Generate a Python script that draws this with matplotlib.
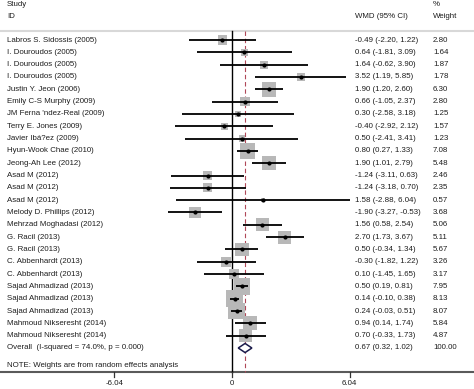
import numpy as np
import matplotlib
matplotlib.use("Agg")
import matplotlib.pyplot as plt
from matplotlib.patches import Polygon

plt.rcParams['font.family'] = ['Liberation Sans', 'DejaVu Sans']

studies = [
    "Labros S. Sidossis (2005)", "I. Douroudos (2005)", "I. Douroudos (2005)",
    "I. Douroudos (2005)", "Justin Y. Jeon (2006)", "Emily C-S Murphy (2009)",
    "JM Ferna 'ndez-Real (2009)", "Terry E. Jones (2009)", "Javier Ibá?ez (2009)",
    "Hyun-Wook Chae (2010)", "Jeong-Ah Lee (2012)", "Asad M (2012)",
    "Asad M (2012)", "Asad M (2012)", "Melody D. Phillips (2012)",
    "Mehrzad Moghadasi (2012)", "G. Racil (2013)", "G. Racil (2013)",
    "C. Abbenhardt (2013)", "C. Abbenhardt (2013)", "Sajad Ahmadizad (2013)",
    "Sajad Ahmadizad (2013)", "Sajad Ahmadizad (2013)", "Mahmoud Nikseresht (2014)",
    "Mahmoud Nikseresht (2014)",
]
wmd = [-0.49, 0.64, 1.64, 3.52, 1.90, 0.66, 0.30, -0.40, 0.50, 0.80, 1.90,
       -1.24, -1.24, 1.58, -1.90, 1.56, 2.70, 0.50, -0.30, 0.10, 0.50, 0.14,
       0.24, 0.94, 0.70]
lower = [-2.20, -1.81, -0.62, 1.19, 1.20, -1.05, -2.58, -2.92, -2.41, 0.27, 1.01,
         -3.11, -3.18, -2.88, -3.27, 0.58, 1.73, -0.34, -1.82, -1.45, 0.19, -0.10,
         -0.03, 0.14, -0.33]
upper = [1.22, 3.09, 3.90, 5.85, 2.60, 2.37, 3.18, 2.12, 3.41, 1.33, 2.79,
         0.63, 0.70, 6.04, -0.53, 2.54, 3.67, 1.34, 1.22, 1.65, 0.81, 0.38,
         0.51, 1.74, 1.73]
weight = [2.80, 1.64, 1.87, 1.78, 6.30, 2.80, 1.25, 1.57, 1.23, 7.08, 5.48,
          2.46, 2.35, 0.57, 3.68, 5.06, 5.11, 5.67, 3.26, 3.17, 7.95, 8.13,
          8.07, 5.84, 4.87]

overall_wmd, overall_lo, overall_hi = 0.67, 0.32, 1.02
overall_label = "Overall  (I-squared = 74.0%, p = 0.000)"
xticks = [-6.04, 0, 6.04]
xticklabels = ["-6.04", "0", "6.04"]

W, H = 474, 389
fig = plt.figure(figsize=(W / 100, H / 100), dpi=100)
ax = fig.add_axes([0, 0, 1, 1])
ax.axis('off')

px_per_unit = 19.5
zero_px = 232
row_h = 12.32
top_px = 40
ax.set_xlim(-zero_px / px_per_unit, (W - zero_px) / px_per_unit)
ax.set_ylim((H - top_px) / row_h, -top_px / row_h)


def rowpos(px):
    return (px - top_px) / row_h


n = len(studies)
rows = np.arange(n)
fs = 5.7
tc = '#1e1e1e'
tr = ax.get_yaxis_transform()  # x in axes fraction, y in data
x_study, x_wmd, x_wt = 7 / W, 355 / W, 433 / W

# header
ax.text(x_study, rowpos(5), "Study", transform=tr, fontsize=fs, color=tc, va='center')
ax.text(x_study, rowpos(16), "ID", transform=tr, fontsize=fs, color=tc, va='center')
ax.text(x_wmd, rowpos(16), "WMD (95% CI)", transform=tr, fontsize=fs, color=tc, va='center')
ax.text(x_wt, rowpos(5), "%", transform=tr, fontsize=fs, color=tc, va='center')
ax.text(x_wt, rowpos(16), "Weight", transform=tr, fontsize=fs, color=tc, va='center')

y_top = rowpos(31)
y_bot = rowpos(372)
ax.axhline(y_top, color='#d8d8d8', lw=1.5)
ax.axhline(y_bot, color='#5a5a5a', lw=1.5)

# reference lines
ax.plot([0, 0], [y_top, y_bot], color='black', lw=1.0)
ax.plot([overall_wmd, overall_wmd], [y_top, y_bot], color='#b04858', lw=0.8,
        dashes=(4, 2.5))

# study rows
ax.scatter(wmd, rows, s=np.array(weight) * 17.5, marker='s', color='#b8b8b8',
           linewidths=0, zorder=2)
ax.hlines(rows, lower, upper, color='black', lw=1.3, zorder=3)
ax.scatter(wmd, rows, s=9, marker='o', color='black', zorder=4, linewidths=0)

for i in range(n):
    ax.text(x_study, rows[i], studies[i], transform=tr, fontsize=fs, color=tc, va='center')
    ax.text(x_wmd, rows[i], "%.2f (%.2f, %.2f)" % (wmd[i], lower[i], upper[i]),
            transform=tr, fontsize=fs, color=tc, va='center')
    ax.text(x_wt, rows[i], "%.2f" % weight[i], transform=tr, fontsize=fs,
            color=tc, va='center')

# overall diamond
yo = n
h = 0.37
diamond = Polygon([(overall_lo, yo), (overall_wmd, yo - h), (overall_hi, yo),
                   (overall_wmd, yo + h)], closed=True, facecolor='white',
                  edgecolor='#1a1a4a', lw=1.1, zorder=5)
ax.add_patch(diamond)
ax.text(x_study, yo, overall_label, transform=tr, fontsize=fs, color=tc, va='center')
ax.text(x_wmd, yo, "%.2f (%.2f, %.2f)" % (overall_wmd, overall_lo, overall_hi),
        transform=tr, fontsize=fs, color=tc, va='center')
ax.text(x_wt, yo, "100.00", transform=tr, fontsize=fs, color=tc, va='center')

ax.text(x_study, rowpos(366), "NOTE: Weights are from random effects analysis",
        transform=tr, fontsize=fs, color=tc, va='center')

# x axis ticks
for xt, lab in zip(xticks, xticklabels):
    ax.plot([xt, xt], [y_bot, rowpos(377)], color='#333333', lw=0.9)
    ax.text(xt, rowpos(384), lab, fontsize=fs, color=tc, ha='center', va='center')

fig.savefig("out.png", dpi=100)
